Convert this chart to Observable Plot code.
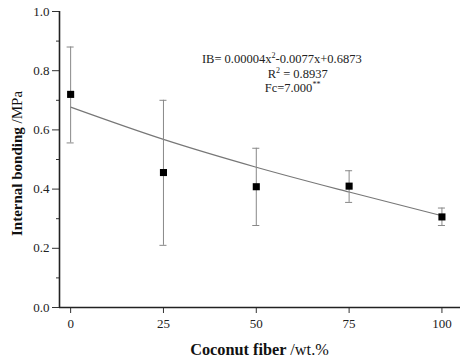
<!DOCTYPE html>
<html><head><meta charset="utf-8">
<script src="https://cdn.jsdelivr.net/npm/d3@7"></script>
<script src="https://cdn.jsdelivr.net/npm/@observablehq/plot@0.6"></script>
<style>
html,body{margin:0;padding:0;background:#fff;}
svg{display:block;}
</style></head>
<body><div id="chart"></div>
<script>
const fiberLevels = [0, 25, 50, 75, 100];
const ibMean = [0.72, 0.456, 0.408, 0.41, 0.306];
const ibLow = [0.556, 0.21, 0.277, 0.355, 0.277];
const ibHigh = [0.88, 0.70, 0.538, 0.462, 0.336];
const fitX = [0, 25, 50, 75, 100];
const fitY = [0.677, 0.568, 0.474, 0.39, 0.31];
const yMajor = [0, 0.2, 0.4, 0.6, 0.8, 1.0];
const yMinor = [0.1, 0.3, 0.5, 0.7, 0.9];
const xTicks = [0, 25, 50, 75, 100];

const pts = fiberLevels.map((x, i) => ({x, y: ibMean[i], lo: ibLow[i], hi: ibHigh[i]}));
const fit = fitX.map((x, i) => ({x, y: fitY[i]}));
const capHalf = 0.95;
const font = "Liberation Serif, Times New Roman, serif";

const plot = Plot.plot({
  width: 474, height: 361,
  marginLeft: 59, marginRight: 14, marginTop: 11, marginBottom: 54,
  style: {fontFamily: font, fontSize: "13px", color: "#222", background: "#fff"},
  x: {domain: [-3, 105]},
  y: {domain: [0, 1]},
  marks: [
    Plot.axisX({ticks: xTicks, tickSize: 6, tickPadding: 5, label: null, fontSize: 13, stroke: "#333"}),
    Plot.axisY({ticks: yMajor, tickSize: 7, tickPadding: 3, tickFormat: d3.format(".1f"), label: null, fontSize: 13, stroke: "#333"}),
    Plot.axisY({ticks: yMinor, tickSize: 3, tickFormat: () => "", label: null, stroke: "#333"}),
    Plot.ruleX([-3], {stroke: "#222", strokeWidth: 1.6}),
    Plot.ruleY([0], {stroke: "#222", strokeWidth: 1.6}),
    Plot.line(fit, {x: "x", y: "y", stroke: "#777", strokeWidth: 1.1, curve: "monotone-x"}),
    Plot.ruleX(pts, {x: "x", y1: "lo", y2: "hi", stroke: "#888", strokeWidth: 1}),
    Plot.ruleY(pts, {y: "lo", x1: d => d.x - capHalf, x2: d => d.x + capHalf, stroke: "#888", strokeWidth: 1}),
    Plot.ruleY(pts, {y: "hi", x1: d => d.x - capHalf, x2: d => d.x + capHalf, stroke: "#888", strokeWidth: 1}),
    Plot.dot(pts, {x: "x", y: "y", symbol: "square", r: 4, fill: "#000", stroke: "none"})
  ]
});
document.getElementById("chart").appendChild(plot);

const svg = d3.select(plot);
const sx = plot.scale("x"), sy = plot.scale("y");

// axis titles with mixed weight
const xt = svg.append("text").attr("x", sx.apply(51)).attr("y", 355)
  .attr("text-anchor", "middle").attr("font-family", font).attr("font-size", 16.3).attr("fill", "#111");
xt.append("tspan").attr("font-weight", "bold").text("Coconut fiber ");
xt.append("tspan").text("/wt.%");

const yt = svg.append("text").attr("transform", `translate(22,${sy.apply(0.485)}) rotate(-90)`)
  .attr("text-anchor", "middle").attr("font-family", font).attr("font-size", 15).attr("fill", "#111");
yt.append("tspan").attr("font-weight", "bold").text("Internal bonding ");
yt.append("tspan").text("/MPa");

// equation annotation
const ann = [
  {x: 35.5, y: 0.824, parts: [["IB= 0.00004x"], ["2", true], ["-0.0077x+0.6873"]]},
  {x: 53.2, y: 0.774, parts: [["R"], ["2", true], [" = 0.8937"]]},
  {x: 52.4, y: 0.726, parts: [["Fc=7.000"], ["**", true]]}
];
ann.forEach(a => {
  const t = svg.append("text").attr("x", sx.apply(a.x)).attr("y", sy.apply(a.y))
    .attr("text-anchor", "start")
    .attr("font-family", font).attr("font-size", 12.5).attr("fill", "#222");
  let up = false;
  a.parts.forEach(([s, sup]) => {
    const ts = t.append("tspan").text(s);
    if (sup) { ts.attr("font-size", 8).attr("dy", -5); up = true; }
    else { ts.attr("dy", up ? 5 : 0); up = false; }
  });
});
</script></body></html>
